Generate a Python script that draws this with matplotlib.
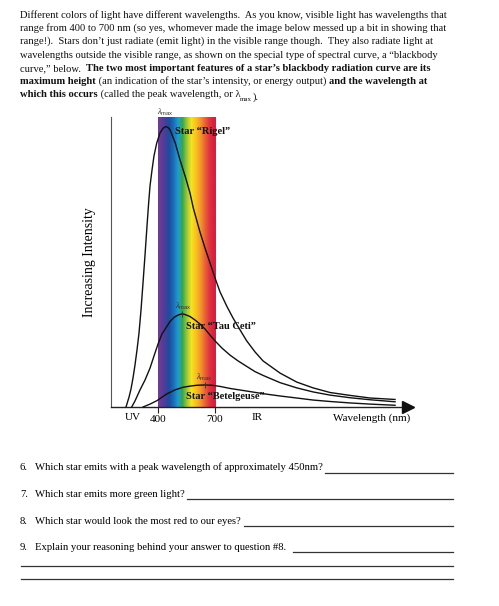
import numpy as np
import matplotlib
matplotlib.use("Agg")
import matplotlib.pyplot as plt
from matplotlib.colors import to_rgb

# ── data (x in nm, y in arbitrary intensity) ──
rigel_nm = [231.6, 247.4, 257.9, 268.4, 278.9, 289.5, 300.0, 310.5, 321.1,
            331.6, 342.1, 350.0, 357.9, 368.4, 378.9, 393.2, 410.5, 426.3,
            440.5, 452.6, 463.2, 491.0, 515.8, 543.7, 568.4, 585.8, 621.1,
            647.4, 673.7, 700.0, 726.3, 761.6, 794.7, 831.6, 866.8, 910.5,
            952.6, 1042.1, 1130.0, 1215.8, 1305.3, 1410.5, 1515.8, 1647.4]
rigel_int = [0.0, 3.4, 6.2, 10.0, 14.5, 19.7, 25.5, 33.4, 42.8, 52.4, 62.4,
             69.7, 76.2, 81.7, 86.6, 91.0, 94.5, 96.1, 96.7, 96.4, 95.6, 91.0,
             85.2, 79.4, 73.8, 68.6, 60.3, 54.8, 49.7, 44.5, 39.7, 34.8, 30.7,
             26.6, 22.8, 19.0, 15.9, 11.7, 8.6, 6.6, 5.0, 4.0, 3.1, 2.6]
tau_nm = [261.6, 279.0, 305.3, 331.6, 357.9, 378.9, 401.6, 421.1, 445.8,
          463.2, 484.2, 505.3, 524.7, 542.1, 568.4, 594.7, 621.1, 647.4,
          673.7, 700.0, 736.8, 778.9, 821.1, 866.8, 910.5, 952.6, 1042.1,
          1130.0, 1215.8, 1305.3, 1410.5, 1515.8, 1647.4]
tau_int = [0.0, 2.1, 5.9, 9.3, 13.4, 17.6, 22.0, 25.2, 27.7, 29.5, 30.9, 31.7,
           32.1, 31.9, 31.2, 30.0, 28.6, 26.9, 24.8, 22.8, 20.3, 17.9, 15.9,
           14.0, 12.2, 10.9, 8.4, 6.6, 5.2, 4.1, 3.2, 2.5, 1.8]
betel_nm = [321.1, 357.9, 394.7, 445.8, 489.5, 531.6, 568.4, 605.3, 647.4,
            684.2, 726.3, 778.9, 866.8, 952.6, 1042.1, 1130.0, 1215.8, 1305.3,
            1410.5, 1515.8, 1647.4]
betel_int = [0.0, 1.0, 2.2, 4.5, 5.9, 6.8, 7.2, 7.5, 7.6, 7.5, 7.1, 6.4, 5.5,
             4.6, 3.8, 3.1, 2.4, 1.9, 1.4, 1.0, 0.6]

peak_nm = [440.5, 524.7, 647.4]
peak_int = [96.7, 32.1, 7.6]
star_names = ["Star \u201cRigel\u201d", "Star \u201cTau Ceti\u201d",
              "Star \u201cBetelgeuse\u201d"]

visible = [400, 700]
spectrum = ["#6b3b95", "#4b3e9b", "#1d4c9c", "#1c6db6", "#1f9bd5", "#36a84a",
            "#9fc73c", "#f6e41e", "#f8c21f", "#f39a2b", "#ea6535", "#df3540",
            "#d7203f"]
tick_vals = [400, 700]
tick_labels = ["400", "700"]

W, H = 499, 606
SERIF = ["Liberation Serif", "DejaVu Serif"]
plt.rcParams["font.family"] = SERIF
plt.rcParams["mathtext.fontset"] = "custom"
plt.rcParams["mathtext.rm"] = "Liberation Sans"
plt.rcParams["mathtext.it"] = "Liberation Serif:italic"

fig = plt.figure(figsize=(W / 100, H / 100), dpi=100)
page = fig.add_axes([0, 0, 1, 1])
page.set_xlim(0, W); page.set_ylim(H, 0); page.axis("off")

# ── paragraph (mixed normal / bold runs chained one after another) ──────────
FS = 7.6
lines = [
    [("Different colors of light have different wavelengths.  As you know, "
      "visible light has wavelengths that", "normal")],
    [("range from 400 to 700 nm (so yes, whomever made the image below messed "
      "up a bit in showing that", "normal")],
    [("range!).  Stars don\u2019t just radiate (emit light) in the visible range "
      "though.  They also radiate light at", "normal")],
    [("wavelengths outside the visible range, as shown on the special type of "
      "spectral curve, a \u201cblackbody", "normal")],
    [("curve,\u201d below.  ", "normal"),
     ("The two most important features of a star\u2019s blackbody radiation "
      "curve are its", "bold")],
    [("maximum height", "bold"),
     (" (an indication of the star\u2019s intensity, or energy output) ", "normal"),
     ("and the wavelength at", "bold")],
    [("which this occurs", "bold"),
     (" (called the peak wavelength, or \u03bb", "normal"),
     ("max", "sub"), (").", "normal")],
]
y0, dy = 15.0, 13.33
for i, segs in enumerate(lines):
    prev = None
    for txt, style in segs:
        kw = dict(fontsize=FS, va="center", ha="left", color="#111111")
        if style == "bold":
            kw["fontweight"] = "bold"
        if style == "sub":
            kw["fontsize"] = 5.0
        if prev is None:
            prev = page.text(20, y0 + i * dy, txt, **kw)
        else:
            off = -2.0 if style == "sub" else 0
            prev = page.annotate(txt, xy=(1, 0), xycoords=prev,
                                 xytext=(0, off), textcoords="offset points",
                                 **{**kw, "va": "bottom"})

# ── chart ───────────────────────────────────────────────────────────────────
ax = fig.add_axes([111 / W, 1 - 407 / H, (413 - 111) / W, (407 - 117) / H])
ax.set_xlim(152.6, 1742)
ax.set_ylim(0, 100)
for s in ["top", "right"]:
    ax.spines[s].set_visible(False)
ax.spines["left"].set_color("#555555")
ax.spines["left"].set_linewidth(0.8)
ax.spines["bottom"].set_color("#222222")
ax.spines["bottom"].set_linewidth(1.0)

rgb = np.array([[to_rgb(c) for c in spectrum]])
ax.imshow(rgb, extent=[visible[0], visible[1], 0, 99.7], aspect="auto",
          interpolation="bilinear", zorder=1)

for xs, ys in [(rigel_nm, rigel_int), (tau_nm, tau_int), (betel_nm, betel_int)]:
    ax.plot(xs, ys, color="#111111", lw=1.0, zorder=3, clip_on=False,
            solid_joinstyle="round")

ax.plot(peak_nm[1:], peak_int[1:], ls="none", marker="|", ms=4, mew=0.6,
        color="#333333", zorder=4)

lam_pos = [(437, 101.7), (532, 34.8), (642, 10.3)]
for (lx, ly) in lam_pos:
    ax.text(lx, ly, r"$\lambda_{\rm max}$", fontsize=6, ha="center",
            va="center", color="#333333", clip_on=False)

lab_pos = [(489, 95.2), (547, 27.9), (547, 3.6)]
for (lx, ly), name in zip(lab_pos, star_names):
    ax.text(lx, ly, name, fontsize=7.5, fontweight="bold", ha="left",
            va="center", color="#111111", zorder=5)

ax.set_yticks([])
ax.set_xticks(tick_vals)
ax.set_xticklabels(tick_labels, fontsize=8)
ax.tick_params(axis="x", length=4, width=0.8, pad=2, color="#222222")
ax.plot([1716], [0], marker=">", ms=8, color="#111111", clip_on=False, zorder=6)

page.text(133, 418, "UV", fontsize=8, ha="center", va="center")
page.text(257, 418, "IR", fontsize=8, ha="center", va="center")
page.text(372, 418.5, "Wavelength (nm)", fontsize=8, ha="center", va="center")
page.text(90, 262, "Increasing Intensity", fontsize=10, rotation=90,
          ha="center", va="center")

# ── questions ───────────────────────────────────────────────────────────────
questions = [
    ("6.", "Which star emits with a peak wavelength of approximately 450nm?"),
    ("7.", "Which star emits more green light?"),
    ("8.", "Which star would look the most red to our eyes?"),
    ("9.", "Explain your reasoning behind your answer to question #8."),
]
q_y = [467, 494.5, 521.7, 548]
line_x0 = [325, 187, 244, 293]
line_y = [472.7, 499, 526, 551.7]
for (num, q), y, lx, ly in zip(questions, q_y, line_x0, line_y):
    page.text(20, y, num, fontsize=7.7, va="center", ha="left")
    page.text(35, y, q, fontsize=7.7, va="center", ha="left")
    page.plot([lx, 452.7], [ly, ly], color="#333333", lw=0.9)
for ly in [565.7, 579]:
    page.plot([20.7, 452.7], [ly, ly], color="#333333", lw=0.9)

fig.savefig("out.png", dpi=100)
